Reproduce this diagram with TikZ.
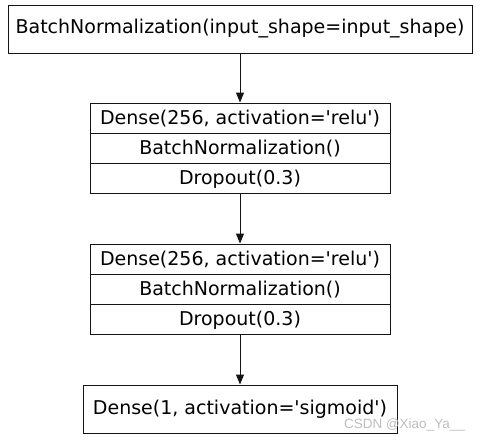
\documentclass[tikz,border=0pt]{standalone}
\usepackage{fontspec}
\setmainfont{DejaVu Sans}
\newfontfamily\markfont{Liberation Sans}
\usetikzlibrary{arrows.meta}
\definecolor{edgegrey}{RGB}{20,20,20}
\definecolor{markgrey}{RGB}{190,190,190}
\newcommand{\q}{\textquotesingle}

\tikzset{
  layer/.style={draw=edgegrey,line width=1pt,fill=white,inner sep=0pt,
    minimum height=48pt,font=\fontsize{19}{22}\selectfont},
  row/.style={draw=edgegrey,line width=1pt,fill=white,inner sep=0pt,
    minimum width=300pt,minimum height=30.33pt,font=\fontsize{19}{22}\selectfont},
  flow/.style={-{Triangle[length=10pt,width=8pt]},line width=1pt,edgegrey}
}

\begin{document}
\begin{tikzpicture}[x=1pt,y=-1pt]
        \useasboundingbox (0,0) rectangle (481,440);
        % Input layer
        \node[layer,minimum width=464pt] (bn) at (240,29)
          {BatchNormalization(input\_shape=input\_shape)};
        % First block
        \node[row] (densea) at (240,118.2) {Dense(256, activation=\q relu\q)};
        \node[row] (bna) at (240,148.5) {BatchNormalization()};
        \node[row] (dropa) at (240,178.8) {Dropout(0.3)};
        % Second block
        \node[row] (denseb) at (240,259.2) {Dense(256, activation=\q relu\q)};
        \node[row] (bnb) at (240,289.5) {BatchNormalization()};
        \node[row] (dropb) at (240,319.8) {Dropout(0.3)};
        % Output layer
        \node[layer,minimum width=314pt] (out) at (240,409)
          {Dense(1, activation=\q sigmoid\q)};
        % Edges
        \draw[flow] (bn) -- (densea);
        \draw[flow] (dropa) -- (denseb);
        \draw[flow] (dropb) -- (out);
        % Watermark
        \node[markgrey,anchor=east,inner sep=0pt,
          font=\markfont\fontsize{13.5}{16}\selectfont] (mark) at (465,425)
          {CSDN @Xiao\_Ya\_\_};
      \end{tikzpicture}
\end{document}
